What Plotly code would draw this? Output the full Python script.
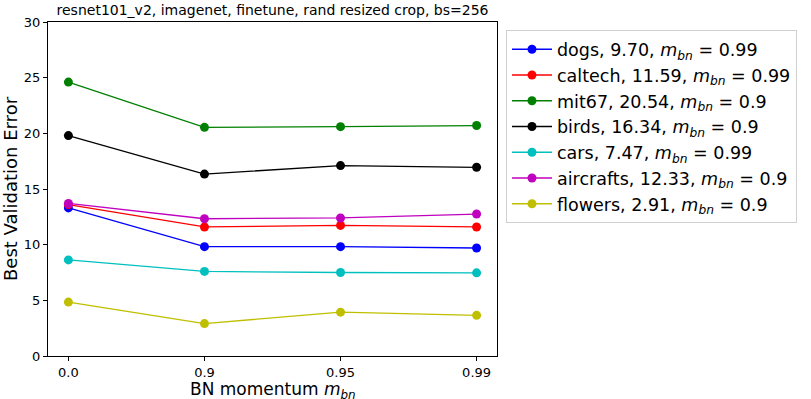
import plotly.graph_objects as go

x_labels = ["0.0", "0.9", "0.95", "0.99"]
dogs = [13.3, 9.82, 9.82, 9.70]
caltech = [13.6, 11.59, 11.73, 11.59]
mit67 = [24.6, 20.54, 20.6, 20.7]
birds = [19.8, 16.34, 17.1, 16.95]
cars = [8.63, 7.6, 7.5, 7.47]
aircrafts = [13.7, 12.33, 12.4, 12.75]
flowers = [4.84, 2.91, 3.94, 3.65]

series = [
    ("dogs, 9.70", "0.99", dogs, "#0000ff"),
    ("caltech, 11.59", "0.99", caltech, "#ff0000"),
    ("mit67, 20.54", "0.9", mit67, "#008000"),
    ("birds, 16.34", "0.9", birds, "#000000"),
    ("cars, 7.47", "0.99", cars, "#00bfbf"),
    ("aircrafts, 12.33", "0.9", aircrafts, "#bf00bf"),
    ("flowers, 2.91", "0.9", flowers, "#bfbf00"),
]

fig = go.Figure()
for name, m, vals, col in series:
    fig.add_trace(go.Scatter(
        x=x_labels, y=vals, mode="lines+markers",
        name=f"{name}, <i>m</i><sub><i>bn</i></sub> = {m}",
        line=dict(color=col, width=1.3),
        marker=dict(color=col, size=9),
    ))

font = "DejaVu Sans"
fig.update_layout(
    width=811, height=399,
    margin=dict(l=48, r=314, t=22, b=43),
    plot_bgcolor="white", paper_bgcolor="white",
    font=dict(family=font, color="black"),
    title=dict(text="resnet101_v2, imagenet, finetune, rand resized crop, bs=256",
               xref="paper", x=0.5, xanchor="center", y=0.975, yanchor="middle",
               font=dict(size=14)),
    showlegend=True,
    legend=dict(x=1.02, y=0.975, xanchor="left", yanchor="top",
                bordercolor="#d0d0d0", borderwidth=1, font=dict(size=17.5),
                tracegroupgap=0, itemwidth=40),
    annotations=[dict(text="BN momentum <i>m</i><sub><i>bn</i></sub>",
                      xref="paper", yref="paper", x=0.5, y=-0.104,
                      xanchor="center", yanchor="middle", showarrow=False,
                      font=dict(size=17))],
)
fig.update_xaxes(
    type="category", range=[-0.15, 3.15], automargin=False,
    showline=True, linecolor="black", linewidth=1, mirror=True,
    ticks="outside", ticklen=4, tickcolor="black", showgrid=False,
    tickfont=dict(size=13),
)
fig.update_yaxes(
    range=[0, 30], tickvals=[0, 5, 10, 15, 20, 25, 30], automargin=False,
    showline=True, linecolor="black", linewidth=1, mirror=True,
    ticks="outside", ticklen=4, tickcolor="black", showgrid=False, zeroline=False,
    tickfont=dict(size=13),
    title=dict(text="Best Validation Error", font=dict(size=18), standoff=4),
)
fig.write_html("out.html", config={"displayModeBar": False},
               post_script="document.body.style.margin='0';")
